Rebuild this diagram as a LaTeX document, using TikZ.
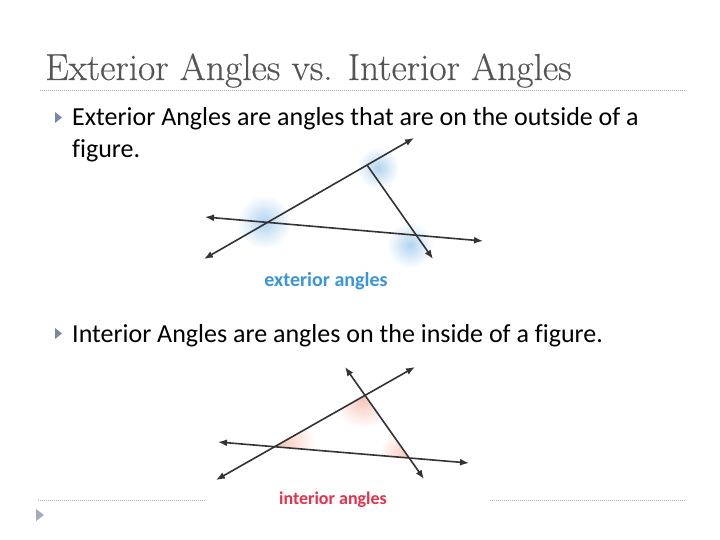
\documentclass[tikz,border=0pt]{standalone}
\usepackage{fontspec}
\setmainfont{Latin Modern Roman}[FakeBold=0.4]
\newfontfamily\bodyfont{Carlito}[Ligatures=NoCommon]
\usetikzlibrary{arrows.meta}
\definecolor{titlegray}{HTML}{555555}
\definecolor{dotgray}{HTML}{B0B0B0}
\definecolor{bulletblue}{HTML}{7888A8}
\definecolor{linegray}{HTML}{333333}
\definecolor{extblue}{HTML}{3A96D8}
\definecolor{intred}{HTML}{E8304A}
\definecolor{glowblue}{HTML}{B0D4F0}
\definecolor{wedgepink}{HTML}{F8BFB0}
\tikzset{
  titletext/.style={anchor=base west, inner sep=0pt, text=titlegray, font=\fontsize{37.5}{42}\selectfont},
  bodytext/.style={anchor=base west, inner sep=0pt, text=black, font=\bodyfont\fontsize{26}{30}\selectfont},
  bulletmark/.style={fill=bulletblue, draw=none},
  sepline/.style={dotgray, line width=0.6pt, dash pattern=on 1pt off 1pt},
  geoline/.style={linegray, line width=1.6pt},
  dblarrow/.style={geoline, {Latex[length=9pt,width=7pt]}-{Latex[length=9pt,width=7pt]}},
  onearrow/.style={geoline, -{Latex[length=9pt,width=7pt]}},
  lbl/.style={inner sep=0pt, font=\bodyfont\bfseries\fontsize{20}{22}\selectfont},
  lblsmall/.style={inner sep=0pt, font=\bodyfont\bfseries\fontsize{18}{20}\selectfont},
}
\begin{document}
\begin{tikzpicture}[x=1pt,y=-1pt]
\useasboundingbox (0,0) rectangle (720,540);
\fill[white] (0,0) rectangle (720,540);

% title
\node[titletext] (title) at (45,80) {Exterior Angles vs. Interior Angles};
\draw[sepline] (40,90) -- (685,90);

% bullets
\fill[bulletmark] (55,112) -- (62,117.5) -- (55,123) -- cycle;
\node[bodytext] (b1a) at (72,126) {Exterior Angles are angles that are on the outside of a};
\node[bodytext] (b1b) at (72,158) {figure.};
\fill[bulletmark] (55,328) -- (62,333.5) -- (55,339) -- cycle;
\node[bodytext] (b2) at (72,342) {Interior Angles are angles on the inside of a figure.};

% ---------- top figure: exterior angles ----------
\shade[inner color=glowblue, outer color=white] (264,222) circle (27);
\shade[inner color=glowblue, outer color=white] (378,168) circle (21);
\shade[inner color=glowblue, outer color=white] (410,245) circle (23);

\coordinate (a1) at (204,259);
\coordinate (a2) at (414,138);
\coordinate (b1) at (205,217);
\coordinate (b2) at (483,241);
\coordinate (c1) at (367,165);
\coordinate (c2) at (433,259);
\draw[dblarrow] (a1) -- (a2);
\draw[dblarrow] (b1) -- (b2);
\draw[onearrow] (c1) -- (c2);
\node[lbl, text=extblue] (extlbl) at (326,281) {exterior angles};

% ---------- bottom figure: interior angles ----------
\coordinate (p) at (276,446);
\coordinate (q) at (364,396);
\coordinate (r) at (408,458);
\begin{scope}
  \clip (p) -- (q) -- (r) -- cycle;
  \shade[inner color=wedgepink, outer color=white] (p) circle (40);
  \shade[inner color=wedgepink, outer color=white] (q) circle (32);
  \shade[inner color=wedgepink, outer color=white] (r) circle (30);
\end{scope}
\coordinate (d1) at (216,480);
\coordinate (d2) at (415,367);
\coordinate (e1) at (218,442);
\coordinate (e2) at (469,463);
\coordinate (f1) at (345,367);
\coordinate (f2) at (424,479);
\draw[dblarrow] (d1) -- (d2);
\draw[dblarrow] (e1) -- (e2);
\draw[dblarrow] (f1) -- (f2);

\draw[sepline] (38,500) -- (205,500);
\draw[sepline] (490,500) -- (685,500);
\node[lblsmall, text=intred] (intlbl) at (333,500) {interior angles};

% bottom-left marker
\fill[bulletblue!70] (36,509) -- (44,515) -- (36,521) -- cycle;
\end{tikzpicture}
\end{document}
